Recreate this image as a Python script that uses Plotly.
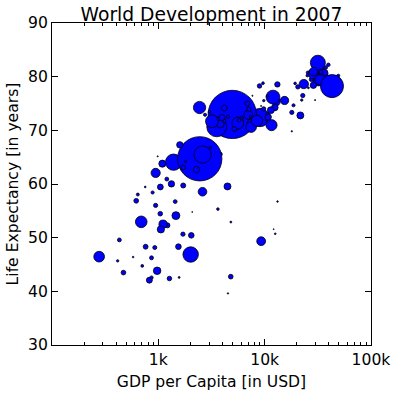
import math
import plotly.graph_objects as go

countries = ["Afghanistan", "Albania", "Algeria", "Angola", "Argentina", "Australia", "Austria", "Bahrain",
             "Bangladesh", "Belgium", "Benin", "Bolivia", "Bosnia and Herzegovina", "Botswana", "Brazil",
             "Bulgaria", "Burkina Faso", "Burundi", "Cambodia", "Cameroon", "Canada", "Central African Republic",
             "Chad", "Chile", "China", "Colombia", "Comoros", "Congo, Dem. Rep.", "Congo, Rep.", "Costa Rica",
             "Cote d'Ivoire", "Croatia", "Cuba", "Czech Republic", "Denmark", "Djibouti", "Dominican Republic",
             "Ecuador", "Egypt", "El Salvador", "Equatorial Guinea", "Eritrea", "Ethiopia", "Finland", "France",
             "Gabon", "Gambia", "Germany", "Ghana", "Greece", "Guatemala", "Guinea", "Guinea-Bissau", "Haiti",
             "Honduras", "Hong Kong, China", "Hungary", "Iceland", "India", "Indonesia", "Iran", "Iraq", "Ireland",
             "Israel", "Italy", "Jamaica", "Japan", "Jordan", "Kenya", "Korea, Dem. Rep.", "Korea, Rep.", "Kuwait",
             "Lebanon", "Lesotho", "Liberia", "Libya", "Madagascar", "Malawi", "Malaysia", "Mali", "Mauritania",
             "Mauritius", "Mexico", "Mongolia", "Montenegro", "Morocco", "Mozambique", "Myanmar", "Namibia",
             "Nepal", "Netherlands", "New Zealand", "Nicaragua", "Niger", "Nigeria", "Norway", "Oman", "Pakistan",
             "Panama", "Paraguay", "Peru", "Philippines", "Poland", "Portugal", "Puerto Rico", "Reunion",
             "Romania", "Rwanda", "Sao Tome and Principe", "Saudi Arabia", "Senegal", "Serbia", "Sierra Leone",
             "Singapore", "Slovak Republic", "Slovenia", "Somalia", "South Africa", "Spain", "Sri Lanka", "Sudan",
             "Swaziland", "Sweden", "Switzerland", "Syria", "Taiwan", "Tanzania", "Thailand", "Togo",
             "Trinidad and Tobago", "Tunisia", "Turkey", "Uganda", "United Kingdom", "United States", "Uruguay",
             "Venezuela", "Vietnam", "West Bank and Gaza", "Yemen, Rep.", "Zambia", "Zimbabwe"]

gdp_per_capita = [974.58, 5937.03, 6223.37, 4797.23, 12779.38, 34435.37, 36126.49, 29796.05,
                  1391.25, 33692.61, 1441.28, 3822.14, 7446.30, 12569.85, 9065.80,
                  10680.79, 1217.03, 430.07, 1713.78, 2042.10, 36319.24, 706.02,
                  1704.06, 13171.64, 4959.11, 7006.58, 986.15, 277.55, 3632.56, 9645.06,
                  1544.75, 14619.22, 8948.10, 22833.31, 35278.42, 2082.48, 6025.37,
                  6873.26, 5581.18, 5728.35, 12154.09, 641.37, 690.81, 33207.08, 30470.02,
                  13206.48, 752.75, 32170.37, 1327.61, 27538.41, 5186.05, 942.65, 579.23, 1201.64,
                  3548.33, 39724.98, 18008.94, 36180.79, 2452.21, 3540.65, 11605.71, 4471.06, 40676.00,
                  25523.28, 28569.72, 7320.88, 31656.07, 4519.46, 1463.25, 1593.07, 23348.14, 47306.99,
                  10461.06, 1569.33, 414.51, 12057.50, 1044.77, 759.35, 12451.66, 1042.58, 1803.15,
                  10956.99, 11977.57, 3095.77, 9253.90, 3820.18, 823.69, 944.00, 4811.06,
                  1091.36, 36797.93, 25185.01, 2749.32, 619.68, 2013.98, 49357.19, 22316.19, 2605.95,
                  9809.19, 4172.84, 7408.91, 3190.48, 15389.92, 20509.65, 19328.71, 7670.12,
                  10808.48, 863.09, 1598.44, 21654.83, 1712.47, 9786.53, 862.54,
                  47143.18, 18678.31, 25768.26, 926.14, 9269.66, 28821.06, 3970.10, 2602.39,
                  4513.48, 33859.75, 37506.42, 4184.55, 28718.28, 1107.48, 7458.40, 882.97,
                  18008.51, 7092.92, 8458.28, 1056.38, 33203.26, 42951.65, 10611.46,
                  11415.81, 2441.58, 3025.35, 2280.77, 1271.21, 469.71]

life_expectancy = [43.828, 76.423, 72.301, 42.731, 75.320, 81.235, 79.829, 75.635,
                   64.062, 79.441, 56.728, 65.554, 74.852, 50.728, 72.390,
                   73.005, 52.295, 49.580, 59.723, 50.430, 80.653, 44.741,
                   50.651, 78.553, 72.961, 72.889, 65.152, 46.462, 55.322, 78.782,
                   48.328, 75.748, 78.273, 76.486, 78.332, 54.791, 72.235,
                   74.994, 71.338, 71.878, 51.579, 58.040, 52.947, 79.313, 80.657,
                   56.735, 59.448, 79.406, 60.022, 79.483, 70.259, 56.007, 46.388, 60.916,
                   70.198, 82.208, 73.338, 81.757, 64.698, 70.650, 70.964, 59.545, 78.885,
                   80.745, 80.546, 72.567, 82.603, 72.535, 54.110, 67.297, 78.623, 77.588,
                   71.993, 42.592, 45.678, 73.952, 59.443, 48.303, 74.241, 54.467, 64.164,
                   72.801, 76.195, 66.803, 74.543, 71.164, 42.082, 62.069, 52.906,
                   63.785, 79.762, 80.204, 72.899, 56.867, 46.859, 80.196, 75.640, 65.483,
                   75.537, 71.752, 71.421, 71.688, 75.563, 78.098, 78.746, 76.442,
                   72.476, 46.242, 65.528, 72.777, 63.062, 74.002, 42.568,
                   79.972, 74.663, 77.926, 48.159, 49.339, 80.941, 72.396, 58.556,
                   39.613, 80.884, 81.701, 74.143, 78.400, 52.517, 70.616, 58.420,
                   69.819, 73.923, 71.777, 51.542, 79.425, 78.242, 76.384,
                   73.747, 74.249, 73.422, 62.698, 42.384, 43.487]

population_millions = [31.89, 3.60, 33.33, 12.42, 40.30, 20.43, 8.20, 0.71,
                       150.45, 10.39, 8.08, 9.12, 4.55, 1.64, 190.01,
                       7.32, 14.33, 8.39, 14.13, 17.70, 33.39, 4.37,
                       10.24, 16.28, 1318.68, 44.23, 0.71, 64.61, 3.80, 4.13,
                       18.01, 4.49, 11.42, 10.23, 5.47, 0.50, 9.32,
                       13.76, 80.26, 6.94, 0.55, 4.91, 76.51, 5.24, 61.08,
                       1.45, 1.69, 82.40, 22.87, 10.71, 12.57, 9.95, 1.47, 8.50,
                       7.48, 6.98, 9.96, 0.30, 1110.40, 223.55, 69.45, 27.50, 4.11,
                       6.43, 58.15, 2.78, 127.47, 6.05, 35.61, 23.30, 49.04, 2.51,
                       3.92, 2.01, 3.19, 6.04, 19.17, 13.33, 24.82, 12.03, 3.27,
                       1.25, 108.70, 2.87, 0.68, 33.76, 19.95, 47.76, 2.06,
                       28.90, 16.57, 4.12, 5.68, 12.89, 135.03, 4.63, 3.20, 169.27,
                       3.24, 6.67, 28.67, 91.08, 38.52, 10.64, 3.94, 0.80,
                       22.28, 8.86, 0.20, 27.60, 12.27, 10.15, 6.14,
                       4.55, 5.45, 2.01, 9.12, 44.00, 40.45, 20.38, 42.29,
                       1.13, 9.03, 7.55, 19.31, 23.17, 38.14, 65.07, 5.70,
                       1.06, 10.28, 71.16, 29.17, 60.78, 301.14, 3.45,
                       26.08, 85.26, 4.02, 22.21, 11.75, 12.31]

x_tick_values = [1000, 10000, 100000]
x_tick_labels = ["1k", "10k", "100k"]
y_tick_values = [30, 40, 50, 60, 70, 80, 90]

marker_sizes = [1.33 * math.sqrt(p) for p in population_millions]
minor_x = [m * 10 ** e for e in (2, 3, 4) for m in range(2, 10)]

FONT = "DejaVu Sans"

fig = go.Figure(go.Scatter(
    x=gdp_per_capita, y=life_expectancy, mode="markers", text=countries,
    marker=dict(size=marker_sizes, sizemode="diameter", color="#0000ff", opacity=1,
                line=dict(color="black", width=0.8)),
))

axis_common = dict(
    showline=True, linecolor="black", linewidth=1, mirror="allticks",
    ticks="inside", ticklen=6, tickcolor="black", tickwidth=1,
    showgrid=False, zeroline=False,
    tickfont=dict(family=FONT, size=15.6, color="black"),
)

fig.update_layout(
    width=396, height=395,
    margin=dict(l=52, r=25, t=23, b=50, autoexpand=False),
    plot_bgcolor="white", paper_bgcolor="white",
    showlegend=False,
    font=dict(family=FONT, color="black"),
    title=dict(text="World Development in 2007", x=0.5, xref="paper", xanchor="center",
               y=1, yref="paper", yanchor="bottom", pad=dict(b=2),
               font=dict(family=FONT, size=18.7, color="black")),
    xaxis=dict(type="log", range=[2, 5], tickvals=x_tick_values, ticktext=x_tick_labels,
               minor=dict(tickvals=minor_x, ticks="inside", ticklen=3, tickcolor="black", showgrid=False),
               title=dict(text="GDP per Capita [in USD]", standoff=8,
                          font=dict(family=FONT, size=15.6, color="black")),
               automargin=False, **axis_common),
    yaxis=dict(range=[30, 90], tickvals=y_tick_values,
               title=dict(text="Life Expectancy [in years]", standoff=5,
                          font=dict(family=FONT, size=15.6, color="black")),
               automargin=False, **axis_common),
)

fig.write_html("out.html", config={"displayModeBar": False},
               post_script="document.body.style.margin='0';document.body.style.padding='0';")
